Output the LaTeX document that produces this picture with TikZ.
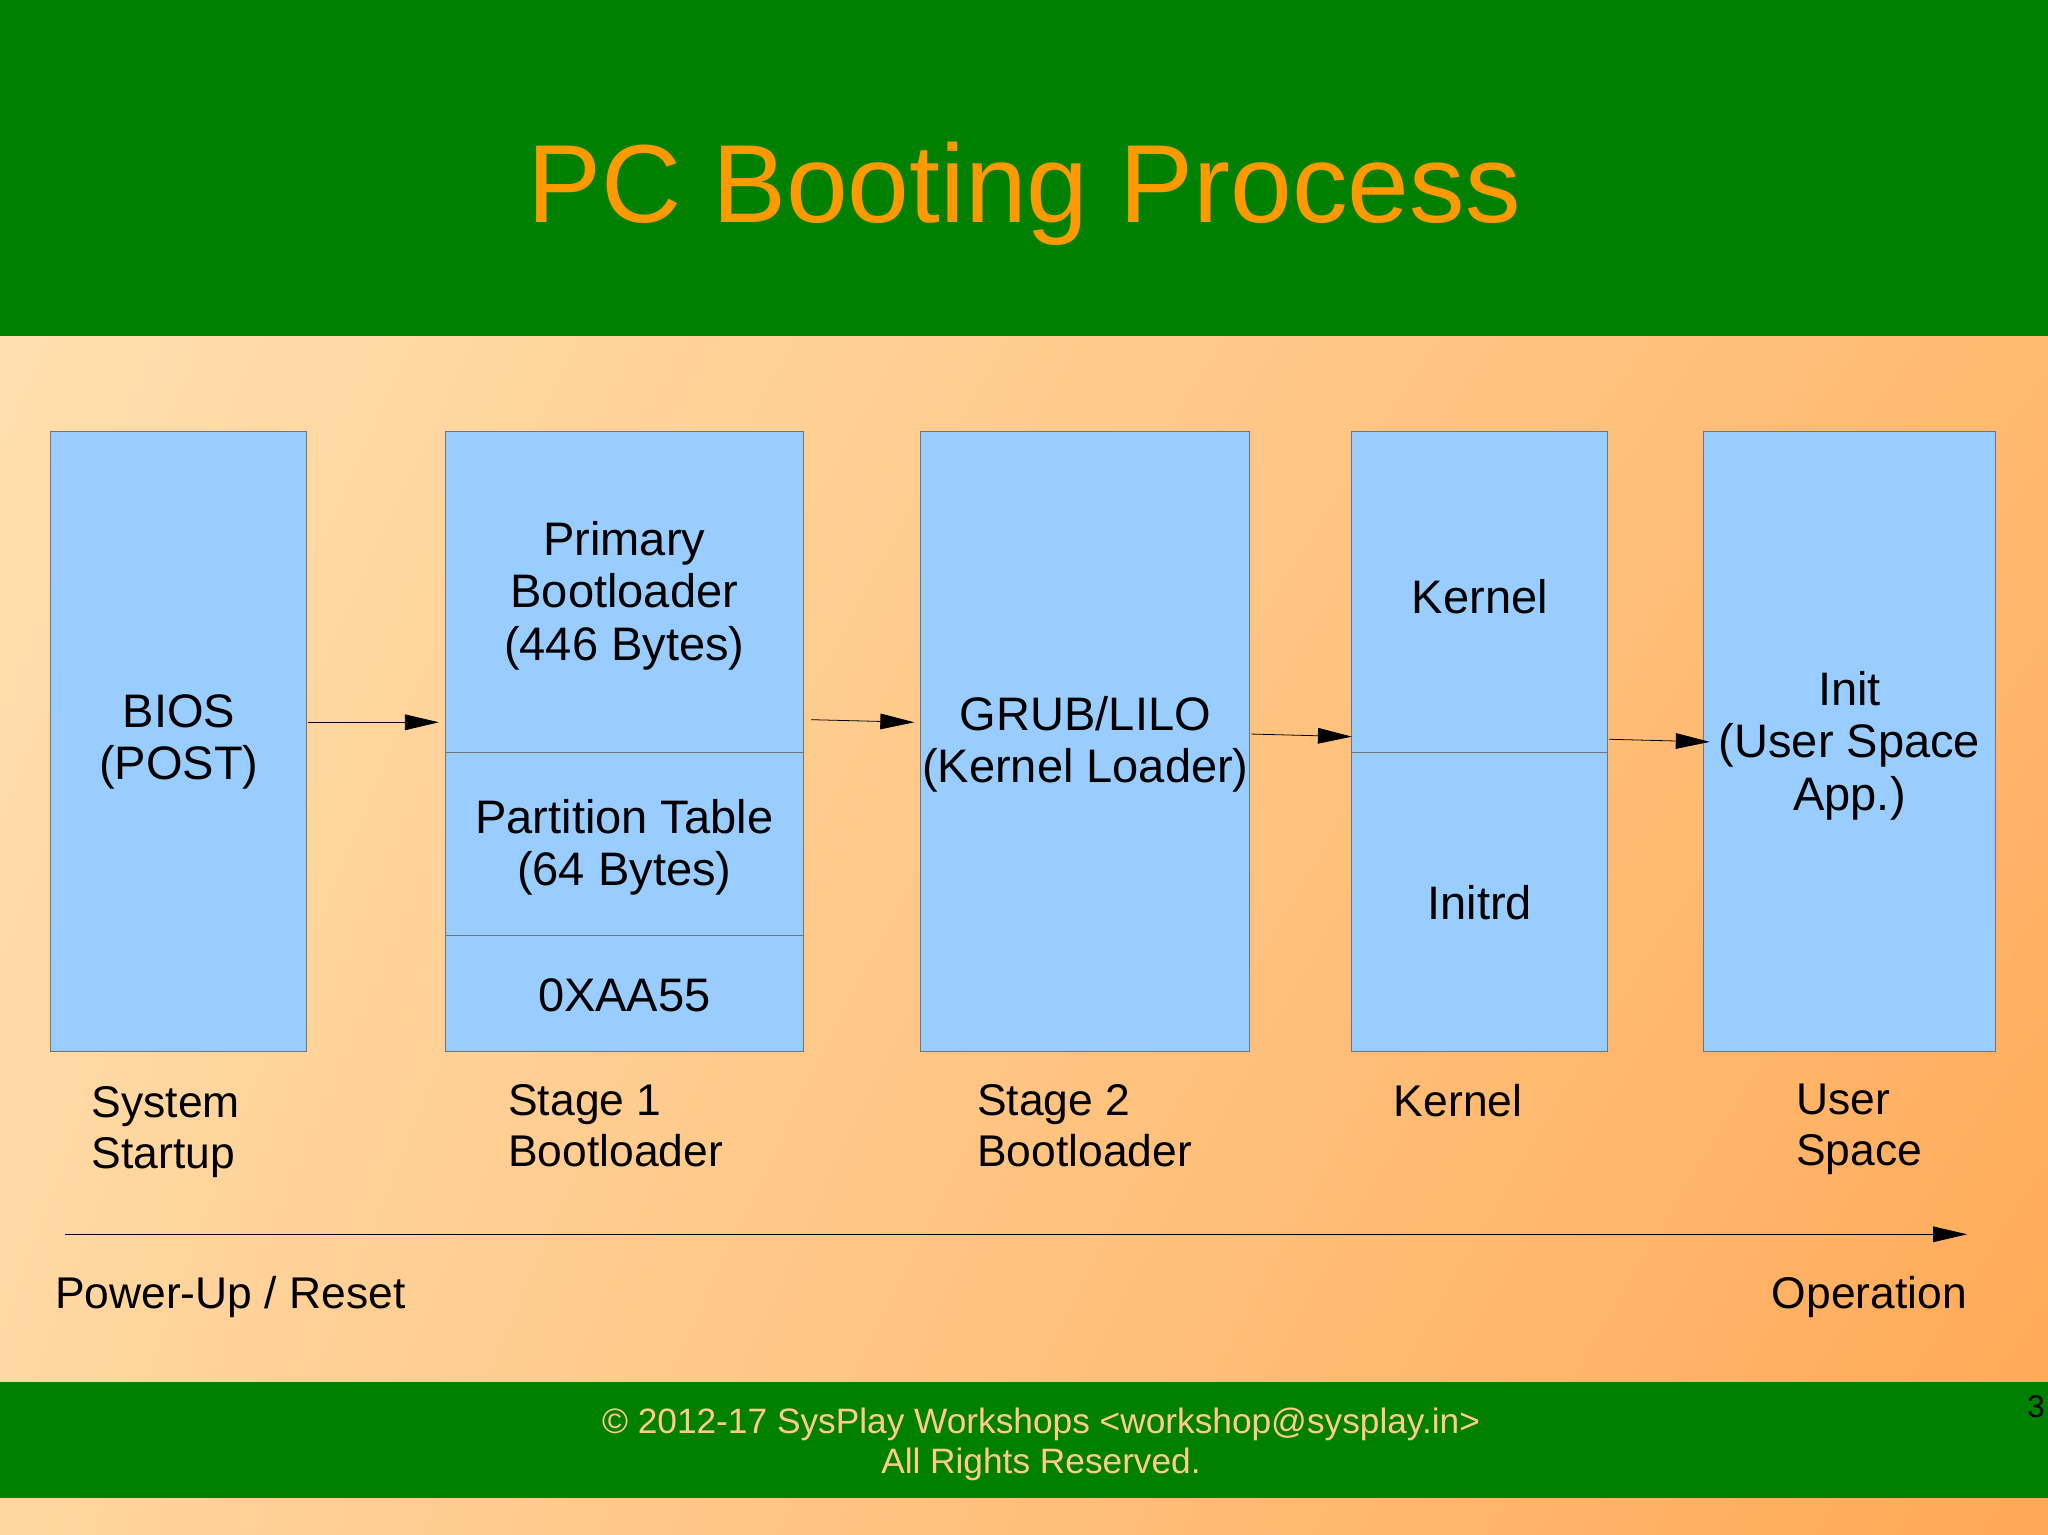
\documentclass[tikz,border=0pt]{standalone}
\usepackage{fontspec}
\setmainfont{Liberation Sans}
\usetikzlibrary{arrows.meta,shadings}
\definecolor{bandgreen}{HTML}{008000}
\definecolor{boxblue}{HTML}{99CCFF}
\definecolor{titleorange}{HTML}{FF9900}
\definecolor{foottext}{HTML}{FFCC88}
\definecolor{bgul}{RGB}{255,226,178}
\definecolor{bgur}{RGB}{255,190,120}
\definecolor{bgll}{RGB}{255,214,160}
\definecolor{bglr}{RGB}{255,168,85}
\begin{document}
\begin{tikzpicture}[x=1pt,y=-1pt,
  blk/.style={draw=black!55,line width=0.8pt,fill=boxblue},
  txt/.style={font=\fontsize{36}{40}\selectfont,align=center,text=black},
  lbl/.style={font=\fontsize{34}{39}\selectfont,align=left,anchor=north west,inner sep=0pt},
  arr/.style={line width=0.6pt,-{Triangle[length=26pt,width=12pt]}}]
\useasboundingbox (0,0) rectangle (1568,1175);
\shade[upper left=bgul,upper right=bgur,lower left=bgll,lower right=bglr]
  (0,0) rectangle (1568,1175);
\fill[bandgreen] (0,0) rectangle (1568,257);
\fill[bandgreen] (0,1058) rectangle (1568,1147);
\node[text=titleorange,font=\fontsize{85}{90}\selectfont] (title) at (784,148) {PC Booting Process};
% boxes
\draw[blk] (39,330) rectangle (235,805);
\node[txt] (bios) at (137,568) {BIOS\\(POST)};
\draw[blk] (341,330) rectangle (615,805);
\draw[draw=black!55,line width=0.8pt] (341,576) -- (615,576) (341,716) -- (615,716);
\node[txt] (pbl) at (478,456) {Primary\\Bootloader\\(446 Bytes)};
\node[txt] (pt) at (478,649) {Partition Table\\(64 Bytes)};
\node[txt] (sig) at (478,762) {0XAA55};
\draw[blk] (705,330) rectangle (957,805);
\node[txt] (grub) at (831,570) {GRUB/LILO\\(Kernel Loader)};
\draw[blk] (1035,330) rectangle (1231,805);
\draw[draw=black!55,line width=0.8pt] (1035,576) -- (1231,576);
\node[txt] (kern) at (1133,457) {Kernel};
\node[txt] (initrd) at (1133,691) {Initrd};
\draw[blk] (1304,330) rectangle (1528,805);
\node[txt] (init) at (1416,571) {Init\\(User Space\\App.)};
% arrows
\coordinate (a1s) at (236,553); \coordinate (a1e) at (336,553);
\coordinate (a2s) at (621,551); \coordinate (a2e) at (700,553);
\coordinate (a3s) at (958,562); \coordinate (a3e) at (1035,564);
\coordinate (a4s) at (1232,566); \coordinate (a4e) at (1309,568);
\draw[arr] (a1s) -- (a1e);
\draw[arr] (a2s) -- (a2e);
\draw[arr] (a3s) -- (a3e);
\draw[arr] (a4s) -- (a4e);
% stage labels
\node[lbl] (l1) at (70,832) {System\\Startup};
\node[lbl] (l2) at (389,830) {Stage 1\\Bootloader};
\node[lbl] (l3) at (748,830) {Stage 2\\Bootloader};
\node[lbl] (l4) at (1067,830) {Kernel};
\node[lbl] (l5) at (1375,830) {User\\Space};
% timeline
\coordinate (ts) at (50,945); \coordinate (te) at (1506,945);
\draw[arr] (ts) -- (te);
\node[lbl] (pu) at (42,977) {Power-Up / Reset};
\node[lbl,anchor=north east] (op) at (1506,977) {Operation};
% footer
\node[text=foottext,font=\fontsize{27}{31}\selectfont,align=center] (foot) at (797,1106)
  {© 2012-17 SysPlay Workshops <workshop@sysplay.in>\\All Rights Reserved.};
\node[font=\fontsize{24}{28}\selectfont,anchor=north west,inner sep=0pt] (pg) at (1552,1068) {3};
\end{tikzpicture}
\end{document}
